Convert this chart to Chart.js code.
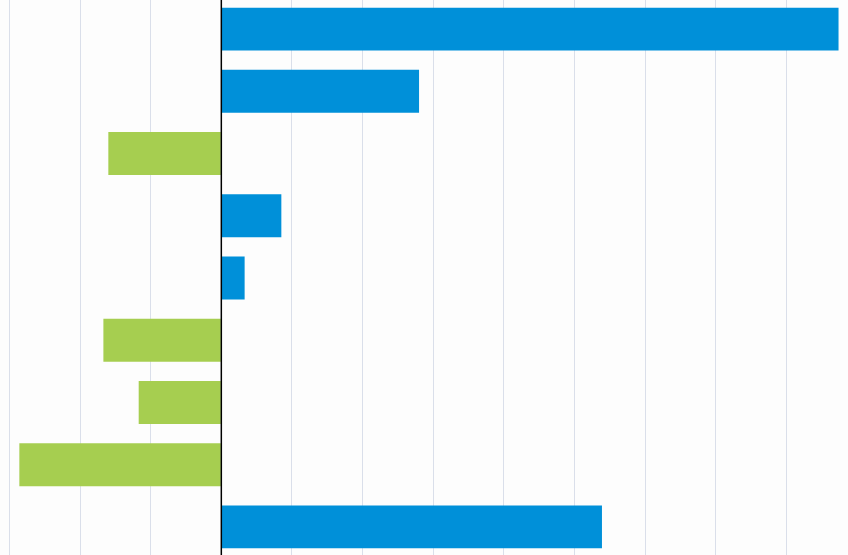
<!DOCTYPE html>
<html>
<head>
<meta charset="utf-8">
<script src="https://cdn.jsdelivr.net/npm/chart.js@4/dist/chart.umd.min.js"></script>
<style>
    html, body {margin: 0; padding: 0; background: #fdfdfd; overflow: hidden;}
    #wrap {position: absolute; left: 0; top: -2px; width: 848px; height: 560px;}
</style>
</head>
<body>
<div id="wrap"><canvas id="chart"></canvas></div>
<script>
/* ============ Data ============ */
const categories = ["A", "B", "C", "D", "E", "F", "G", "H", "I"];
const values = [8.74, 2.80, -1.60, 0.85, 0.33, -1.67, -1.17, -2.86, 5.39];

/* ============ Style ============ */
const BLUE = "#0090d9";
const GREEN = "#a6ce50";
const GRID = "#dadfea";

// zero line drawn on top of bars
const zeroLine = {
    id: "zeroLine",
    afterDatasetsDraw(chart) {
        const {ctx, chartArea, scales} = chart;
        const x = scales.x.getPixelForValue(0);
        ctx.save();
        ctx.strokeStyle = "#000000";
        ctx.lineWidth = 1.5;
        ctx.beginPath();
        ctx.moveTo(x, chartArea.top);
        ctx.lineTo(x, chartArea.bottom);
        ctx.stroke();
        ctx.restore();
    }
};

new Chart(document.getElementById("chart"), {
    type: "bar",
    data: {
        labels: categories,
        datasets: [{
            data: values,
            backgroundColor: ctx => (ctx.raw < 0 ? GREEN : BLUE),
            borderWidth: 0,
            barPercentage: 0.69,
            categoryPercentage: 1
        }]
    },
    options: {
        indexAxis: "y",
        animation: false,
        responsive: true,
        maintainAspectRatio: false,
        devicePixelRatio: 1,
        layout: {padding: 0},
        plugins: {legend: {display: false}, tooltip: {enabled: false}},
        scales: {
            x: {
                min: -3.134,
                max: 8.874,
                ticks: {display: false, stepSize: 1, includeBounds: false},
                border: {display: false},
                grid: {
                    drawTicks: false,
                    color: GRID,
                    lineWidth: 1
                }
            },
            y: {
                display: false
            }
        }
    },
    plugins: [zeroLine]
});
</script>
</body>
</html>
